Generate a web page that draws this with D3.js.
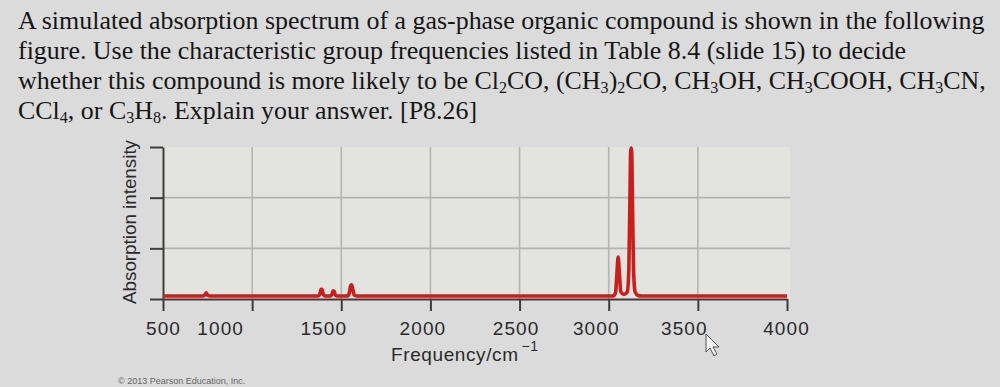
<!DOCTYPE html>
<html>
<head>
<meta charset="utf-8">
<script src="https://cdn.jsdelivr.net/npm/d3@7"></script>
<style>
  body { margin: 0; background: #dadada; }
  svg { display: block; }
</style>
</head>
<body>
<svg id="canvas" width="1000" height="387"></svg>
<script>
// spectrum: [frequency in cm^-1, absorption intensity]
let spectrum = [
  [500, 0.06], [720, 0.06], [735, 0.08], [742, 0.12], [750, 0.08], [765, 0.06],
  [1370, 0.06], [1380, 0.1], [1386, 0.19], [1392, 0.19], [1398, 0.1], [1408, 0.06],
  [1440, 0.06], [1448, 0.1], [1454, 0.16], [1460, 0.15], [1466, 0.08], [1475, 0.06],
  [1535, 0.06], [1545, 0.12], [1552, 0.26], [1558, 0.28], [1564, 0.2], [1572, 0.08], [1585, 0.06],
  [3025, 0.06], [3038, 0.12], [3046, 0.5], [3053, 0.83], [3060, 0.5], [3068, 0.14],
  [3085, 0.09], [3104, 0.14], [3113, 0.6], [3119, 2.0], [3123, 2.9], [3126, 2.98],
  [3129, 2.9], [3133, 2.0], [3139, 0.6], [3148, 0.14], [3165, 0.07], [3185, 0.06],
  [4000, 0.06]
];

let xTicks = [500, 1000, 1500, 2000, 2500, 3000, 3500, 4000];
let gridX = [1000, 1500, 2000, 2500, 3000, 3500];
let yTicks = [0, 1, 2, 3];

let questionLines = [
  [["A simulated absorption spectrum of a gas-phase organic compound is shown in the following", 0]],
  [["figure. Use the characteristic group frequencies listed in Table 8.4 (slide 15) to decide", 0]],
  [["whether this compound is more likely to be Cl", 0], ["2", 1], ["CO, (CH", 0], ["3", 1], [")", 0], ["2", 1],
   ["CO, CH", 0], ["3", 1], ["OH, CH", 0], ["3", 1], ["COOH, CH", 0], ["3", 1], ["CN,", 0]],
  [["CCl", 0], ["4", 1], [", or C", 0], ["3", 1], ["H", 0], ["8", 1], [". Explain your answer. [P8.26]", 0]]
];

// the printed labels sit a bit left of their ticks in the original figure
let labelNudge = [0, -32, -18, -8, -4, -13, -14, -1];

let svg = d3.select("#canvas");

svg.append("rect")
  .attr("width", 1000).attr("height", 387)
  .attr("fill", "#dbdbdb");

// question text
let q = svg.append("g").attr("font-family", "'Liberation Serif', 'Times New Roman', serif").attr("fill", "#161616");
let qText = q.selectAll("text")
  .data(questionLines)
  .enter()
  .append("text")
  .attr("x", 18)
  .attr("y", (d, i) => 29 + i * 30)
  .attr("font-size", 24);

qText.each(function(parts) {
  let t = d3.select(this);
  parts.forEach(p => {
    let s = t.append("tspan").text(p[0]);
    if (p[1]) {
      s.attr("font-size", "62%").attr("baseline-shift", "-22%");
    }
  });
});

let w0 = qText.node().getComputedTextLength();
let fs = 24 * 967 / w0;
qText.attr("font-size", fs);

// chart
let x = d3.scaleLinear().domain([500, 4000]).range([163, 787]);
let y = d3.scaleLinear().domain([0, 3]).range([299, 147]);

svg.append("rect")
  .attr("x", x(500)).attr("y", y(3))
  .attr("width", 790 - x(500)).attr("height", y(0) - y(3))
  .attr("fill", "#e3e4e0");

let grid = svg.append("g").attr("stroke", "#b4b4b2").attr("stroke-width", 1.6);
grid.selectAll("line.v")
  .data(gridX)
  .enter()
  .append("line")
  .attr("class", "v")
  .attr("x1", d => x(d)).attr("x2", d => x(d))
  .attr("y1", y(3)).attr("y2", y(0));
grid.selectAll("line.h")
  .data([1, 2])
  .enter()
  .append("line")
  .attr("class", "h")
  .attr("x1", x(500)).attr("x2", 790)
  .attr("y1", d => y(d)).attr("y2", d => y(d));

let xAxis = d3.axisBottom(x)
  .tickValues(xTicks)
  .tickSize(12)
  .tickSizeOuter(0)
  .tickFormat(d3.format("d"));

let gx = svg.append("g")
  .attr("transform", "translate(0," + y(0) + ")")
  .call(xAxis);
gx.select(".domain").attr("stroke", "#3d3d3d").attr("stroke-width", 2);
gx.selectAll(".tick line").attr("stroke", "#3d3d3d").attr("stroke-width", 2);
gx.selectAll(".tick text")
  .attr("y", 36).attr("dy", null)
  .attr("dx", (d, i) => labelNudge[i])
  .attr("font-family", "'Liberation Sans', Arial, sans-serif")
  .attr("font-size", 19)
  .attr("letter-spacing", 1.1)
  .attr("fill", "#2a2a2a");

let yAxis = d3.axisLeft(y)
  .tickValues(yTicks)
  .tickSize(13)
  .tickSizeOuter(0)
  .tickFormat("");

let gy = svg.append("g")
  .attr("transform", "translate(" + x(500) + ",0)")
  .call(yAxis);
gy.select(".domain").attr("stroke", "#3d3d3d").attr("stroke-width", 2);
gy.selectAll(".tick line").attr("stroke", "#3d3d3d").attr("stroke-width", 2);

// the spectrum
let line = d3.line()
  .x(d => x(d[0]))
  .y(d => y(d[1]))
  .curve(d3.curveMonotoneX);

svg.append("path")
  .datum(spectrum)
  .attr("d", line)
  .attr("fill", "none")
  .attr("stroke", "#c81f1c")
  .attr("stroke-width", 3.6)
  .attr("stroke-linejoin", "round");

// axis titles
svg.append("text")
  .attr("transform", "translate(136,222) rotate(-90)")
  .attr("text-anchor", "middle")
  .attr("font-family", "'Liberation Sans', Arial, sans-serif")
  .attr("font-size", 18)
  .attr("textLength", 164)
  .attr("lengthAdjust", "spacingAndGlyphs")
  .attr("fill", "#2a2a2a")
  .text("Absorption intensity");

let xl = svg.append("text")
  .attr("x", 391).attr("y", 361)
  .attr("font-family", "'Liberation Sans', Arial, sans-serif")
  .attr("font-size", 19)
  .attr("letter-spacing", 0.6)
  .attr("fill", "#2a2a2a");
xl.append("tspan").text("Frequency/cm");
xl.append("tspan").attr("font-size", 14).attr("dy", -10).attr("dx", 3).text("\u22121");

svg.append("text")
  .attr("x", 118).attr("y", 384)
  .attr("font-family", "'Liberation Sans', Arial, sans-serif")
  .attr("font-size", 9)
  .attr("fill", "#666")
  .text("\u00a9 2013 Pearson Education, Inc.");

// mouse pointer visible in the photo
svg.append("path")
  .attr("d", "M706,334 L706,352 L710,348 L714,356 L717,354 L713,347 L719,347 Z")
  .attr("fill", "#f2f2f2")
  .attr("stroke", "#555")
  .attr("stroke-width", 1);
</script>
</body>
</html>
